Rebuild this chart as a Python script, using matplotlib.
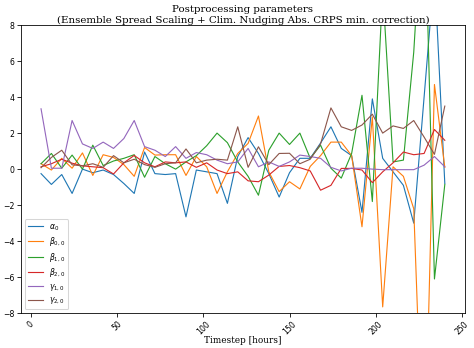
from __future__ import annotations

import matplotlib

matplotlib.use("Agg")
import matplotlib.pyplot as plt


TIMESTEPS = [
    6, 12, 18, 24, 30, 36, 42, 48, 54, 60,
    66, 72, 78, 84, 90, 96, 102, 108, 114, 120,
    126, 132, 138, 144, 150, 156, 162, 168, 174, 180,
    186, 192, 198, 204, 210, 216, 222, 228, 234, 240,
]

alpha_0 = [
    -0.25, -0.85, -0.3, -1.35, 0.0, -0.2, -0.05, -0.3, -0.8, -1.35,
    0.95, -0.25, -0.3, -0.25, -2.65, -0.05, -0.15, -0.25, -1.9, 0.7,
    1.75, 0.87, -0.25, -1.55, -0.2, 0.6, 0.6, 1.45, 2.35, 1.15,
    0.75, -2.4, 3.9, 0.6, -0.15, -0.9, -3.0, 4.0, 11.0, -0.8,
]
beta_00 = [
    0.3, -0.05, 0.6, 0.05, 0.9, -0.35, 0.8, 0.65, 0.25, -0.4,
    1.2, 0.78, 0.8, 0.8, -0.35, 0.7, 0.13, -1.35, -0.15, 0.87,
    1.43, 2.95, -0.15, -1.25, -0.7, -1.1, 0.15, 0.75, 1.5, 1.5,
    0.75, -3.2, 2.9, -7.65, 0.13, -0.4, -2.2, -18.0, 4.7, 0.1,
]
beta_10 = [
    0.3, 0.87, 0.05, 0.78, 0.0, 1.33, 0.2, 0.45, 0.6, 0.8,
    -0.45, 0.7, 0.3, 0.0, 0.4, 0.75, 1.3, 2.0, 1.47, 0.4,
    -0.4, -1.45, 1.05, 2.0, 1.37, 2.0, 0.6, 1.33, 0.05, -0.5,
    0.87, 4.1, -1.8, 10.0, 0.4, 0.5, 6.5, 16.0, -6.1, -0.85,
]
beta_20 = [
    0.13, 0.3, 0.55, 0.33, 0.18, 0.13, 0.08, -0.27, 0.35, 0.76,
    0.35, 0.13, 0.4, 0.35, 0.4, 0.1, 0.35, -0.05, -0.25, -0.15,
    -0.65, -0.7, -0.33, 0.15, 0.2, 0.08, -0.1, -1.17, -0.9, 0.04,
    0.04, -0.05, -0.75, -0.15, 0.35, 0.95, 0.8, 0.87, 2.2, 1.6,
]
gamma_10 = [
    3.35, 0.05, 0.05, 2.7, 1.4, 1.15, 1.5, 1.15, 1.7, 2.7,
    1.25, 1.05, 0.7, 1.25, 0.6, 0.92, 0.8, 0.5, 0.3, 0.4,
    1.15, 0.13, 0.4, 0.15, 0.4, 0.78, 0.7, 0.6, 0.1, -0.1,
    0.05, 0.05, 0.0, -0.03, -0.03, -0.03, -0.03, 0.22, 0.7, 0.13,
]
gamma_20 = [
    0.08, 0.65, 1.05, 0.24, 0.18, 0.3, 0.1, 0.75, 0.35, 0.55,
    0.25, 0.1, 0.3, 0.35, 1.12, 0.35, 0.5, 0.55, 0.5, 2.35,
    0.1, 1.24, 0.25, 0.87, 0.88, 0.3, 0.55, 1.4, 3.4, 2.35,
    2.15, 2.45, 3.05, 2.0, 2.4, 2.26, 2.7, 1.78, 0.82, 3.5,
]

SERIES = [alpha_0, beta_00, beta_10, beta_20, gamma_10, gamma_20]
LABELS = [
    r"$\alpha_0$",
    r"$\beta_{0,0}$",
    r"$\beta_{1,0}$",
    r"$\beta_{2,0}$",
    r"$\gamma_{1,0}$",
    r"$\gamma_{2,0}$",
]


def main() -> None:
    fig, ax = plt.subplots(figsize=(474 / 74, 348 / 74), dpi=74)
    fig.subplots_adjust(left=0.044, right=0.981, top=0.928, bottom=0.10)

    for values, label in zip(SERIES, LABELS):
        ax.plot(TIMESTEPS, values, linewidth=1.1, label=label)

    ax.set_ylim(-8, 8)
    ax.set_title(
        "Postprocessing parameters\n"
        "(Ensemble Spread Scaling + Clim. Nudging Abs. CRPS min. correction)",
        fontfamily="DejaVu Serif",
        fontsize=10,
        pad=2,
    )
    ax.set_xlabel("Timestep [hours]", fontfamily="DejaVu Serif",
                  fontsize=8.7, labelpad=0)
    ax.tick_params(axis="both", labelsize=7.6, pad=2.5)
    ax.tick_params(axis="x", labelrotation=45)
    ax.legend(loc="lower left", fontsize=7.4, labelspacing=0.35)

    fig.savefig("out.png", dpi=74)
    plt.close(fig)


if __name__ == "__main__":
    main()
